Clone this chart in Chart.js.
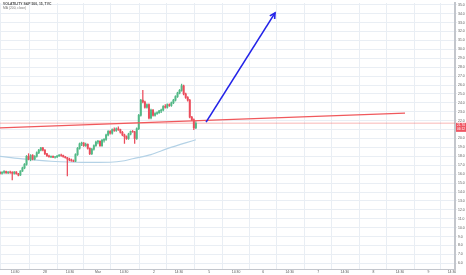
<!DOCTYPE html>
<html>
<head>
<meta charset="utf-8">
<script src="https://cdn.jsdelivr.net/npm/chart.js@4"></script>
<style>
html,body{margin:0;padding:0;background:#fff;overflow:hidden;}
</style>
</head>
<body>
<canvas id="grafico" width="466" height="275"></canvas>
<script>
// 15 min candles, VIX (TVC), x = bar index
let open  = [16.2,16.1,16.2,16.3,16.15,16.25,16.2,16.1,16.25,16.05,15.9,16.35,16.7,17.1,18.0,17.7,18.1,17.7,18.0,18.4,18.7,18.95,18.7,18.3,18.05,17.95,18.0,17.9,17.95,18.05,18.15,18.1,17.95,17.85,17.7,17.6,17.5,17.45,18.2,18.9,19.4,19.5,19.2,19.35,18.9,18.3,18.8,19.2,19.6,19.7,19.2,19.8,19.9,20.4,20.8,20.6,21.0,20.9,21.1,21.0,20.7,20.4,20.2,20.0,20.5,20.8,20.75,20.0,21.1,22.6,24.3,24.1,23.5,23.8,22.3,23.2,22.6,22.8,22.9,23.1,23.2,23.6,23.5,23.8,23.7,24.0,24.3,24.7,25.1,25.4,25.9,25.0,24.6,24.3,22.4,22.1,21.2];
let high  = [16.3,16.3,16.4,16.35,16.3,16.35,16.3,16.3,16.3,16.1,16.4,16.8,17.2,18.1,18.3,18.2,18.2,18.1,18.5,18.8,19.0,19.0,18.75,18.35,18.15,18.05,18.05,18.0,18.1,18.2,18.25,18.15,18.0,17.9,17.8,17.7,17.6,18.3,19.0,19.5,19.6,19.55,19.5,19.4,18.95,18.9,19.3,19.7,19.8,19.75,19.9,20.0,20.5,20.9,20.9,21.1,21.2,21.2,21.3,21.05,20.8,20.5,20.3,20.6,20.85,20.9,20.8,21.2,22.7,24.4,25.4,24.2,23.9,23.9,23.3,23.25,22.9,23.0,23.15,23.3,23.7,23.8,23.9,23.9,24.1,24.4,24.8,25.2,25.5,26.1,26.0,25.1,24.7,24.4,22.5,22.2,21.9];
let low   = [16.0,16.0,16.1,16.1,16.05,16.1,15.35,16.0,16.0,15.8,15.85,16.3,16.6,17.0,17.6,17.5,17.6,17.6,17.9,18.3,18.6,18.6,18.2,18.0,17.9,17.85,17.85,17.8,17.85,18.0,18.0,17.9,17.8,15.8,17.5,17.45,17.4,17.4,18.1,18.8,19.2,19.1,19.1,18.8,18.2,18.2,18.7,19.1,19.4,19.1,19.1,19.6,19.8,20.3,20.5,20.5,20.8,20.8,20.9,20.6,20.3,19.45,19.9,19.9,20.4,20.7,19.45,19.9,21.0,22.5,24.0,23.4,23.4,22.2,22.2,22.5,22.5,22.7,22.8,22.9,23.1,23.4,23.4,23.6,23.6,23.9,24.2,24.6,25.0,25.3,24.9,24.5,24.2,22.3,22.0,21.0,21.1];
let close = [16.1,16.2,16.3,16.15,16.25,16.2,16.1,16.25,16.05,15.9,16.35,16.7,17.1,18.0,17.7,18.1,17.7,18.0,18.4,18.7,18.95,18.7,18.3,18.05,17.95,18.0,17.9,17.95,18.05,18.15,18.1,17.95,17.85,17.7,17.6,17.5,17.45,18.2,18.9,19.4,19.5,19.2,19.35,18.9,18.3,18.8,19.2,19.6,19.7,19.2,19.8,19.9,20.4,20.8,20.6,21.0,20.9,21.1,21.0,20.7,20.4,20.2,20.0,20.5,20.8,20.75,20.0,21.1,22.6,24.3,24.1,23.5,23.8,22.3,23.2,22.6,22.8,22.9,23.1,23.2,23.6,23.5,23.8,23.7,24.0,24.3,24.7,25.1,25.4,25.9,25.0,24.6,24.3,22.4,22.1,21.2,21.7];

// moving average (200, close), read at a few bars
let maIdx = [0,10,25,40,54,61,65,74,82,96];
let maVal = [18.0,17.75,17.45,17.32,17.34,17.51,17.73,18.2,18.86,19.86];

// drawings
let trendIdx = [0,198.5];
let trendVal = [21.2,22.85];
let arrowIdx = [101,134.8];
let arrowVal = [21.83,34.08];

let tickIdx  = [7.4,22,34.3,48,60.8,75.5,87.7,102.5,115.7,129,142,156,169,183,196,210,221.5];
let tickText = ["14:30","28","14:30","Mar","14:30","2","14:30","5","14:30","6","14:30","7","14:30","8","14:30","9","14:30"];
let yTicks = [6,7,8,9,10,11,12,13,14,15,16,17,18,19,20,21,22,23,24,25,26,27,28,29,30,31,32,33,34,35];

let lastPrice = close[close.length-1];

let up = "#53b987";
let down = "#eb4d5c";
let gridColor = "#e9eef4";

let colores = open.map((o,i)=> close[i] >= o ? up : down);

let overlay = {
id: "overlay",
afterDraw(chart){
let ctx = chart.ctx;
let x = chart.scales.x;
let y = chart.scales.y;

// arrow head
let x1 = x.getPixelForValue(arrowIdx[0]), y1 = y.getPixelForValue(arrowVal[0]);
let x2 = x.getPixelForValue(arrowIdx[1]), y2 = y.getPixelForValue(arrowVal[1]);
let ang = Math.atan2(y2-y1, x2-x1);
ctx.save();
ctx.strokeStyle = "#2323e8";
ctx.lineWidth = 1.6;
ctx.beginPath();
ctx.moveTo(x2 - 6*Math.cos(ang-0.5), y2 - 6*Math.sin(ang-0.5));
ctx.lineTo(x2, y2);
ctx.lineTo(x2 - 6*Math.cos(ang+0.5), y2 - 6*Math.sin(ang+0.5));
ctx.stroke();

// title
ctx.fillStyle = "#4a4a4a";
ctx.textBaseline = "middle";
ctx.font = "bold 3.4px 'Liberation Sans', Arial";
ctx.fillText("VOLATILITY S&P 500, 15, TVC", 3, 4.5);
ctx.fillStyle = "#777";
ctx.font = "3.3px 'Liberation Sans', Arial";
ctx.fillText("MA (200, close)", 3, 8.3);

// last price label
let py = y.getPixelForValue(lastPrice);
ctx.fillStyle = "#ef5663";
ctx.fillRect(456, py - 0.5, 10, 9);
ctx.fillStyle = "#fff";
ctx.font = "3.2px 'Liberation Sans', Arial";
ctx.fillText(lastPrice.toFixed(2), 457, py + 2);
ctx.fillText("06:12", 457, py + 6);
ctx.restore();
}
};

let ctx = document.getElementById("grafico").getContext("2d");

window.miGrafico = new Chart(ctx, {

type: "bar",

data: {

datasets: [

{
type: "line",
label: "precio",
data: [{x:0, y:lastPrice},{x:223, y:lastPrice}],
borderColor: "rgba(239,83,80,0.28)",
borderWidth: 1.5,
pointRadius: 0,
order: 6
},

{
type: "line",
label: "MA",
data: maIdx.map((v,i)=>({x:v, y:maVal[i]})),
borderColor: "#b4d2e6",
borderWidth: 1.2,
pointRadius: 0,
cubicInterpolationMode: "monotone",
order: 5
},

{
label: "mechas",
data: open.map((o,i)=>({x:i, y:[low[i], high[i]]})),
backgroundColor: colores,
barThickness: 0.6,
grouped: false,
order: 4
},

{
label: "velas",
data: open.map((o,i)=>({x:i, y:[o, close[i]]})),
backgroundColor: colores,
barThickness: 1.3,
grouped: false,
order: 3
},

{
type: "line",
label: "tendencia",
data: trendIdx.map((v,i)=>({x:v, y:trendVal[i]})),
borderColor: "#f0585c",
borderWidth: 1.2,
pointRadius: 0,
order: 2
},

{
type: "line",
label: "flecha",
data: arrowIdx.map((v,i)=>({x:v, y:arrowVal[i]})),
borderColor: "#2323e8",
borderWidth: 1.6,
pointRadius: 0,
order: 1
}

]

},

options: {

responsive: false,
devicePixelRatio: 1,
animation: false,
layout: { padding: 0 },

plugins: {
legend: { display: false },
tooltip: { enabled: false }
},

scales: {

x: {
type: "linear",
min: 0,
max: 223,
offset: false,
grid: { color: gridColor, tickLength: 1 },
border: { color: "#c3c6cc", width: 1 },
afterBuildTicks: s => { s.ticks = tickIdx.map(v=>({value:v})); },
afterFit: s => { s.height = 6; },
ticks: {
autoSkip: false,
maxRotation: 0,
padding: 0,
color: "#555",
font: { size: 3.4, family: "'Liberation Sans', Arial" },
callback: v => tickText[tickIdx.indexOf(v)]
}
},

y: {
type: "linear",
position: "right",
min: 5.37,
max: 35.19,
grid: { color: gridColor, tickLength: 2 },
border: { color: "#c3c6cc", width: 2 },
afterBuildTicks: s => { s.ticks = yTicks.map(v=>({value:v})); },
afterFit: s => { s.width = 11; },
ticks: {
padding: 1,
color: "#555",
font: { size: 3.4, family: "'Liberation Sans', Arial" },
callback: v => v.toFixed(1)
}
}

}

},

plugins: [overlay]

});
</script>
</body>
</html>
